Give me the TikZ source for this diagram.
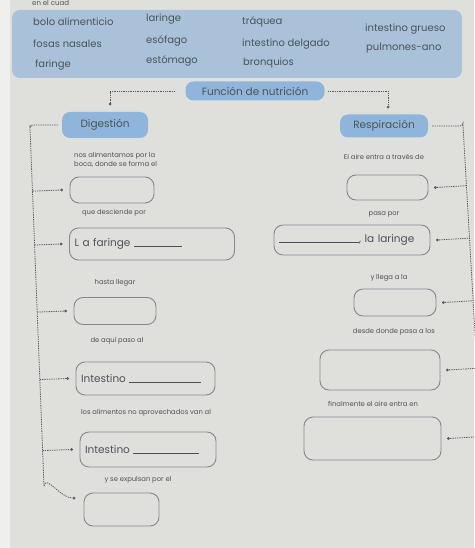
\documentclass[tikz,border=0pt]{standalone}
\usepackage{fontspec}
\setmainfont{Poppins}
\usepackage{tikz}
\usetikzlibrary{positioning,calc}
\definecolor{paper}{HTML}{DFE0DB}
\definecolor{wordblue}{HTML}{A9C2DA}
\definecolor{topicblue}{HTML}{8FB5DA}
\definecolor{ink}{HTML}{4D5258}
\definecolor{linkgray}{HTML}{55585D}
\definecolor{boxgray}{HTML}{85888C}

\tikzset{
  word/.style={anchor=west, text=ink, font=\fontsize{10}{11}\selectfont, inner sep=0pt},
  topicbox/.style={fill=topicblue, rounded corners=8pt, text=ink,
    font=\fontsize{10.5}{12}\selectfont, minimum height=22pt},
  prompt/.style={text=ink, font=\fontsize{6.8}{8.5}\selectfont, inner sep=0pt},
  answerbox/.style={draw=boxgray, line width=0.9pt, rounded corners=9pt,
    fill=paper, text=ink, font=\fontsize{10.5}{12}\selectfont, align=left, inner xsep=5pt},
  link/.style={draw=linkgray, line width=0.8pt, dash pattern=on 1.3pt off 1pt},
  linkdot/.style={circle, fill=linkgray, inner sep=0pt, minimum size=3pt}
}

\begin{document}
\begin{tikzpicture}[x=1pt,y=-1pt]
  \useasboundingbox (0,0) rectangle (474,548);
  \fill[paper] (0,0) rectangle (474,548);
  \fill[paper!50!white] (0,0) rectangle (10,548);
  \node[text=ink, font=\fontsize{7}{8}\selectfont, anchor=base west, inner sep=0pt] (head) at (32,6) {en el cuad};

  % word bank
  \fill[wordblue, rounded corners=8pt] (12,10) rectangle (462,78);
  \node[word] (w1) at (33,22) {bolo alimenticio};
  \node[word] (w2) at (146,19) {laringe};
  \node[word] (w3) at (242,22) {tráquea};
  \node[word] (w4) at (365,29) {intestino grueso};
  \node[word] (w5) at (33,44) {fosas nasales};
  \node[word] (w6) at (146,41) {esófago};
  \node[word] (w7) at (242,44) {intestino delgado};
  \node[word] (w8) at (366,48) {pulmones-ano};
  \node[word] (w9) at (35,65) {faringe};
  \node[word] (w10) at (146,61) {estómago};
  \node[word] (w11) at (243,63) {bronquios};

  % headings
  \node[topicbox, minimum width=139pt, minimum height=19pt] (nutri) at (255,91) {Función de nutrición};
  \node[topicbox, minimum width=86pt, minimum height=26pt] (dig) at (105,125) {Digestión};
  \node[topicbox, minimum width=88pt, minimum height=23pt] (resp) at (384,126) {Respiración};

  \node[linkdot] (digdot) at (110,104) {};
  \node[linkdot] (respdot) at (388,107) {};
  \draw[link] ([xshift=-10pt]nutri.west) -| (digdot);
  \draw[link] ([xshift=3pt]nutri.east) -| (respdot);

  % digestion side
  \coordinate (ltop) at (30,128);
  \coordinate (lbot) at (44,486);
  \draw[link, rounded corners=3pt] ([xshift=-4pt]dig.west) -| (ltop) -- (lbot);

  \node[prompt, anchor=west, align=left] (p1) at (74,160) {nos alimentamos por la\\boca, donde se forma el};
  \node[answerbox, minimum width=84pt, minimum height=26pt] (d1) at (112,190) {};
  \node[prompt] (p2) at (114,213) {que desciende por};
  \node[answerbox, text width=155pt, minimum height=32pt] (d2) at (152,244) {L a faringe \rule{48pt}{0.4pt}};
  \node[prompt] (p3) at (115,283) {hasta llegar};
  \node[answerbox, minimum width=82pt, minimum height=27pt] (d3) at (115,311) {};
  \node[prompt] (p4) at (117,341) {de aquí paso al};
  \node[answerbox, text width=129pt, minimum height=33pt] (d4) at (145.5,378.5) {Intestino \rule{72pt}{0.4pt}};
  \node[prompt] (p5) at (146,413) {los alimentos no aprovechados van al};
  \node[answerbox, text width=126pt, minimum height=35pt] (d5) at (148,449.5) {Intestino \rule{66pt}{0.4pt}};
  \node[prompt] (p6) at (138,480) {y se expulsan por el};
  \node[answerbox, minimum width=75pt, minimum height=33pt] (d6) at (121.5,509.5) {};

  \foreach \b in {d1,d2,d3,d4,d5} {
    \node[linkdot] (\b dot) at ([xshift=-8pt]\b.west) {};
    \draw[link] ($(ltop)!(\b dot)!(lbot)$) -- (\b dot);
  }
  \node[linkdot] (d6dot) at (74,498) {};
  \draw[link] (lbot) to[out=80,in=180] (d6dot);

  % respiration side
  \coordinate (rtop) at (463,126);
  \coordinate (rbot) at (480,420);
  \draw[link, rounded corners=3pt] ([xshift=4pt]resp.east) -| (rtop) -- (rbot);

  \node[prompt] (q1) at (384,157) {El aire entra a través de};
  \node[answerbox, minimum width=81pt, minimum height=25pt] (r1) at (387.5,187.5) {};
  \node[prompt] (q2) at (384,214) {pasa por};
  \node[answerbox, text width=146pt, minimum height=30pt] (r2) at (352,240) {\rule{80pt}{0.4pt}, la laringe};
  \node[prompt] (q3) at (389,278) {y llega a la};
  \node[answerbox, minimum width=82pt, minimum height=27pt] (r3) at (395,302.5) {};
  \node[prompt] (q4) at (394,332) {desde donde pasa a los};
  \node[answerbox, minimum width=120pt, minimum height=40pt] (r4) at (380,370) {};
  \node[prompt] (q5) at (373,404) {finalmente el aire entra en};
  \node[answerbox, minimum width=137pt, minimum height=43pt] (r5) at (372.5,438.5) {};

  \foreach \b in {r1,r2,r3,r4,r5} {
    \node[linkdot] (\b dot) at ([xshift=7pt]\b.east) {};
    \draw[link] (\b dot) -- ($(rtop)!(\b dot)!(rbot)$);
  }
\end{tikzpicture}
\end{document}
